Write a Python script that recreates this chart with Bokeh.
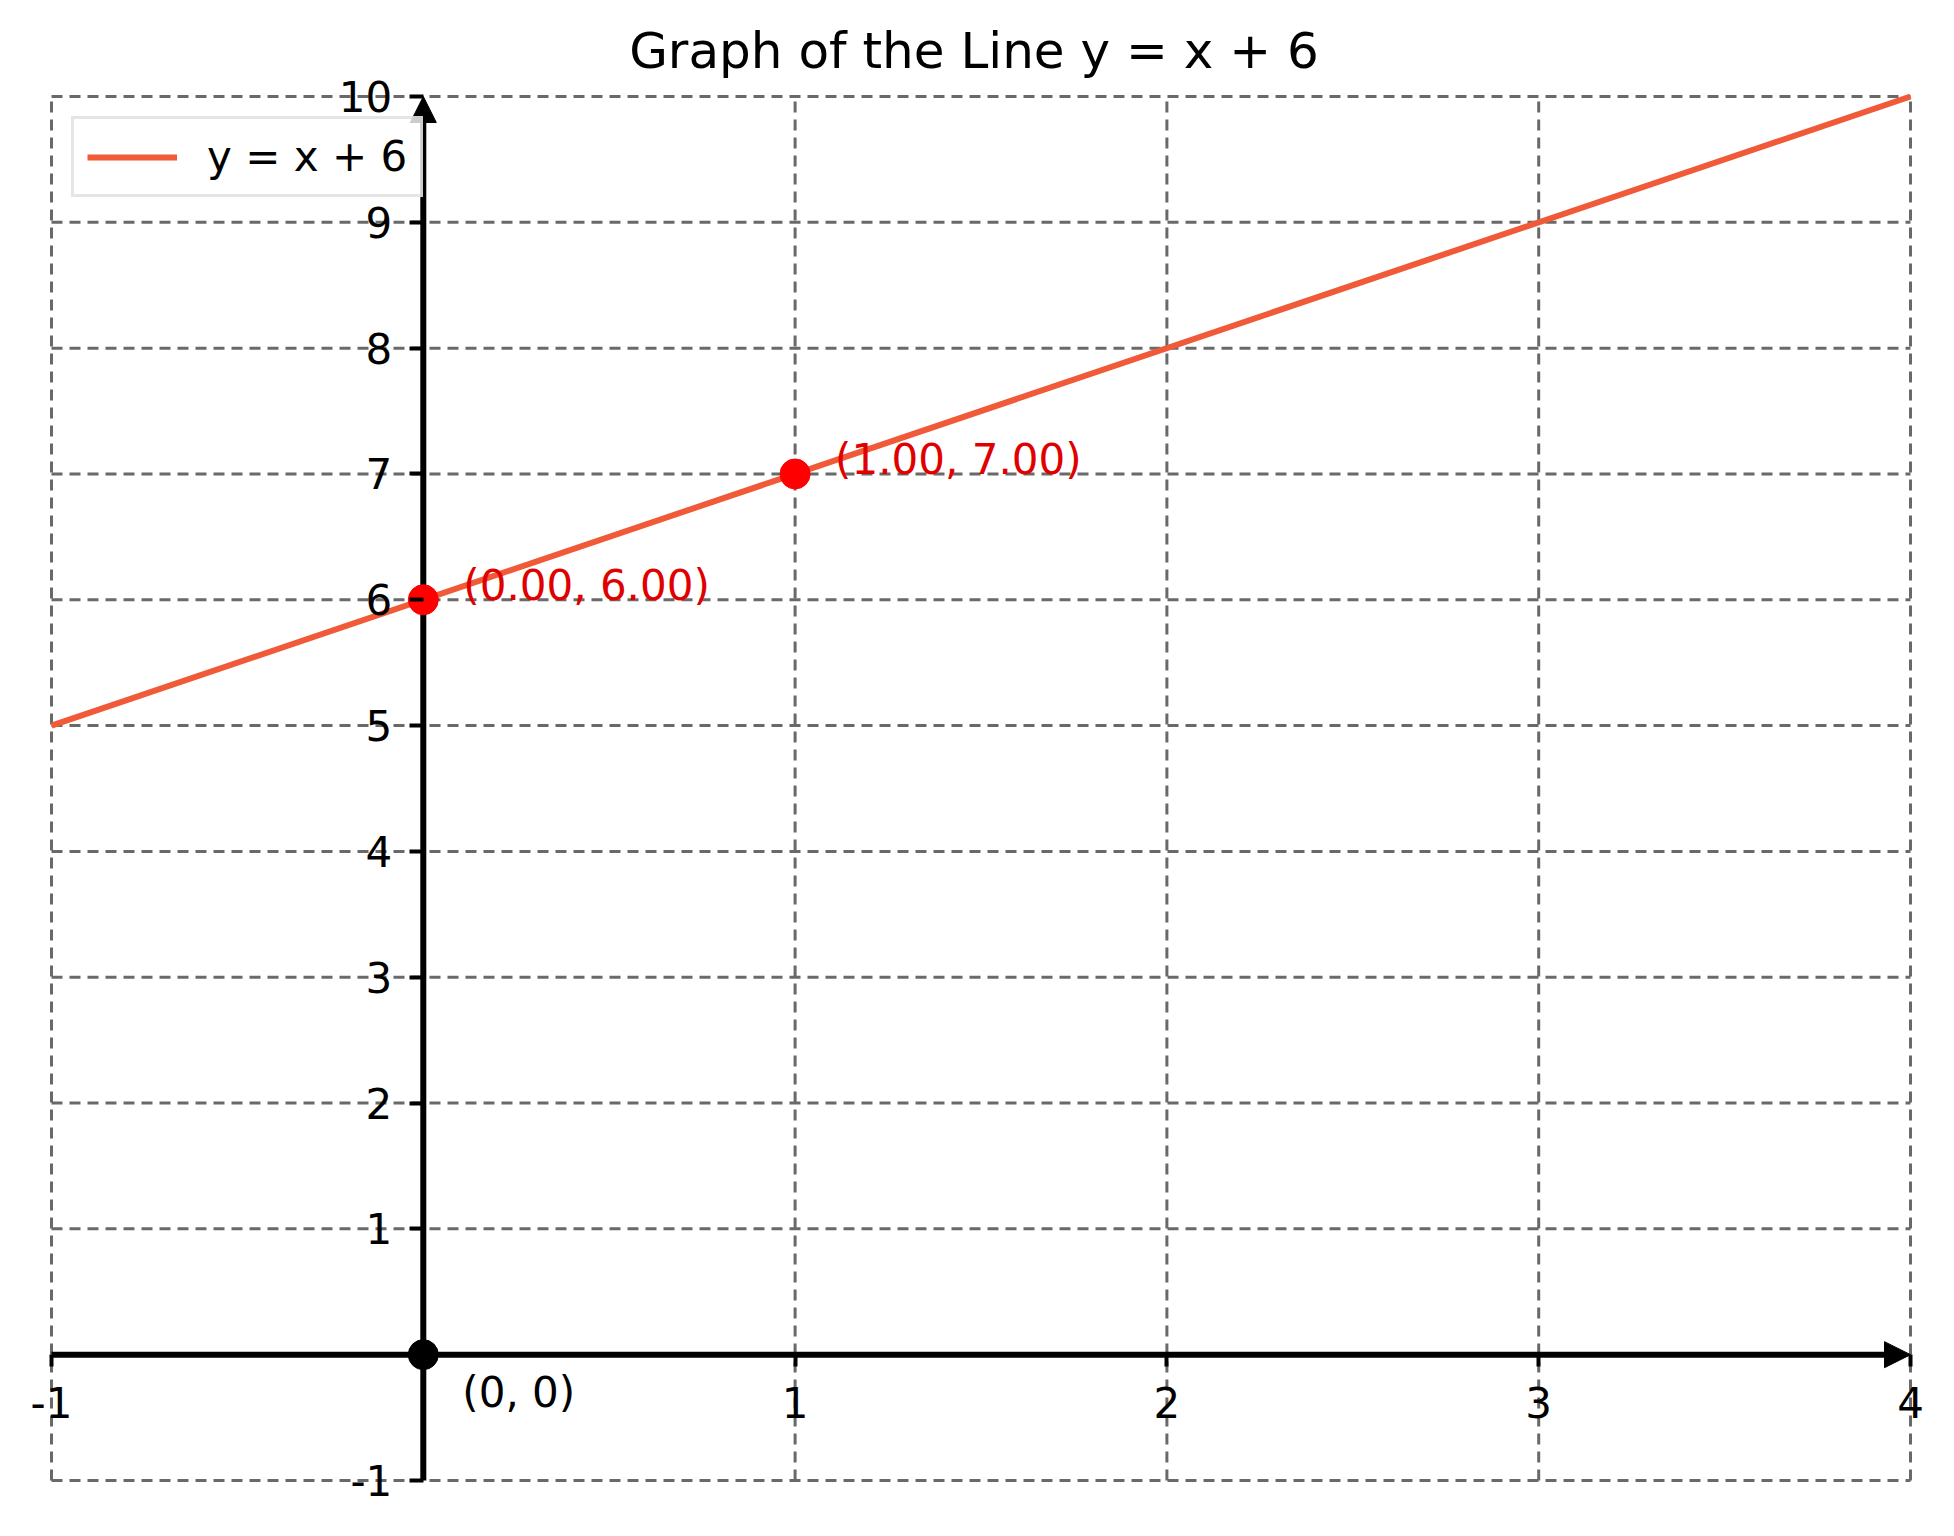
from bokeh.plotting import figure
from bokeh.models import Range1d, FixedTicker, Arrow, NormalHead, Legend, LegendItem
from bokeh.core.properties import value
from bokeh.embed import file_html
from bokeh.resources import INLINE

# ---- data ----
title_text = "Graph of the Line y = x + 6"
legend_label = "y = x + 6"
line_x = [-1, 4]
line_y = [5, 10]
point_x = [0, 1]
point_y = [6, 7]
point_labels = ["(0.00, 6.00)", "(1.00, 7.00)"]
origin_x = [0]
origin_y = [0]
origin_labels = ["(0, 0)"]
x_ticks = [-1, 1, 2, 3, 4]
y_ticks = [-1, 1, 2, 3, 4, 5, 6, 7, 8, 9, 10]
x_tick_labels = ["-1", "1", "2", "3", "4"]
y_tick_labels = ["-1", "1", "2", "3", "4", "5", "6", "7", "8", "9", "10"]
x_min, x_max = -1, 4
y_min, y_max = -1, 10

FONT = "DejaVu Sans"

# ---- layout (pixels) ----
W, H = 1938, 1520
DATA_LEFT, DATA_RIGHT, DATA_TOP, DATA_BOTTOM = 51, 1910, 96, 1480
PAD_L, PAD_R, PAD_T, PAD_B = 30, 16, 30, 30
sx = (DATA_RIGHT - DATA_LEFT) / (x_max - x_min)
sy = (DATA_BOTTOM - DATA_TOP) / (y_max - y_min)

p = figure(width=W, height=H,
           x_range=Range1d(x_min - PAD_L / sx, x_max + PAD_R / sx),
           y_range=Range1d(y_min - PAD_B / sy, y_max + PAD_T / sy),
           output_backend="svg", toolbar_location=None,
           min_border_left=DATA_LEFT - PAD_L, min_border_right=W - (DATA_RIGHT + PAD_R),
           min_border_top=DATA_TOP - PAD_T, min_border_bottom=H - (DATA_BOTTOM + PAD_B))
p.outline_line_color = None
p.background_fill_color = "white"
p.border_fill_color = "white"

p.title.text = title_text
p.title.text_font = FONT
p.title.text_font_size = "50px"
p.title.text_font_style = "normal"
p.title.text_color = "black"
p.title.align = "center"
p.title.standoff = -26
p.title.offset = 7

for ax, ticks, labels, tout, stand in ((p.xaxis[0], x_ticks, x_tick_labels, 12, 20),
                                       (p.yaxis[0], y_ticks, y_tick_labels, 14, 17)):
    ax.ticker = FixedTicker(ticks=ticks)
    ax.major_label_overrides = {t: s for t, s in zip(ticks, labels)}
    ax.fixed_location = 0
    ax.axis_line_color = None
    ax.major_tick_line_color = "black"
    ax.major_tick_line_width = 4
    ax.major_tick_in = 0
    ax.major_tick_out = tout
    ax.minor_tick_line_color = None
    ax.major_label_standoff = stand
    ax.major_label_text_font = FONT
    ax.major_label_text_font_size = "42px"
    ax.major_label_text_color = "black"

p.grid.visible = False

# dashed grid limited to the data area
p.segment(x0=x_ticks, y0=[y_min] * len(x_ticks), x1=x_ticks, y1=[y_max] * len(x_ticks),
          line_color="#696969", line_width=3, line_dash="11 7", level="underlay")
p.segment(x0=[x_min] * len(y_ticks), y0=y_ticks, x1=[x_max] * len(y_ticks), y1=y_ticks,
          line_color="#696969", line_width=3, line_dash="11 7", level="underlay")

# axis lines with arrow heads
p.add_layout(Arrow(x_start=x_min, y_start=0, x_end=x_max, y_end=0,
                   line_color="black", line_width=6, level="underlay",
                   end=NormalHead(size=26, fill_color="black", line_color="black", line_width=1)))
p.add_layout(Arrow(x_start=0, y_start=y_min, x_end=0, y_end=y_max,
                   line_color="black", line_width=6, level="underlay",
                   end=NormalHead(size=26, fill_color="black", line_color="black", line_width=1)))

line_r = p.line(line_x, line_y, line_color="#f05a38", line_width=6)
p.scatter(point_x, point_y, size=30, fill_color="red", line_color="red")
p.scatter(origin_x, origin_y, size=30, fill_color="black", line_color="black")

p.text(point_x, point_y, text=point_labels, x_offset=40, y_offset=-14,
       text_baseline="middle", text_align="left",
       text_font=value(FONT), text_font_size="42px", text_color="#e00000")
p.text(origin_x, origin_y, text=origin_labels, x_offset=39, y_offset=38,
       text_baseline="middle", text_align="left",
       text_font=value(FONT), text_font_size="42px", text_color="black")

legend = Legend(items=[LegendItem(label=legend_label, renderers=[line_r])],
                location="top_left", margin=50, padding=13, spacing=0,
                glyph_width=90, glyph_height=30, label_standoff=30,
                label_text_font=FONT, label_text_font_size="42px", label_text_color="black",
                border_line_color="#cccccc", border_line_width=3,
                background_fill_color="white", background_fill_alpha=0.8)
p.add_layout(legend)

open("out.html", "w").write(file_html(p, INLINE))
